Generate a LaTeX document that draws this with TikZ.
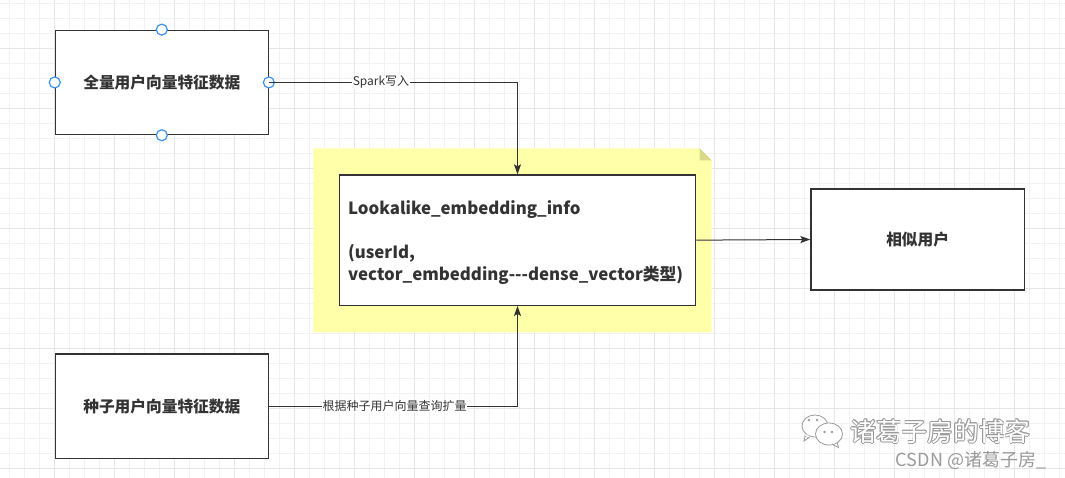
\documentclass[tikz,border=0pt]{standalone}
\usepackage{fontspec}
\newfontfamily\cjk{Noto Sans CJK SC}
\usetikzlibrary{arrows.meta}
\definecolor{ink}{HTML}{333333}
\definecolor{gridminor}{HTML}{F2F2F2}
\definecolor{gridmajor}{HTML}{E6E6E6}
\definecolor{notefill}{HTML}{FFFFAA}
\definecolor{notefold}{HTML}{D9D98C}
\definecolor{handle}{HTML}{3C91F0}
\definecolor{wmgray}{HTML}{9A9A9A}
\tikzset{
  gminor/.style={draw=gridminor,line width=1pt},
  gmajor/.style={draw=gridmajor,line width=1pt},
  box/.style={draw=ink,line width=1.3pt,fill=white,inner sep=0pt,text=ink,
    font=\cjk\bfseries\fontsize{15.7}{19}\selectfont},
  conn/.style={draw=ink,line width=1pt,-{Stealth[length=10pt,width=7pt,inset=2pt]}},
  elabel/.style={fill=white,inner sep=0.5pt,text=ink,font=\cjk\fontsize{12}{14}\selectfont},
  hdl/.style={circle,draw=handle,fill=white,line width=1.2pt,minimum size=11pt,inner sep=0pt},
}
\begin{document}
\begin{tikzpicture}[x=1pt,y=-1pt]
\useasboundingbox (0,0) rectangle (1065,478);
\fill[white] (0,0) rectangle (1065,478);
% grid
\foreach \x in {9,24,...,1060} \draw[gminor] (\x,0) -- (\x,478);
\foreach \y in {3.3,18.3,...,478} \draw[gminor] (0,\y) -- (1065,\y);
\foreach \x in {54,114,...,1060} \draw[gmajor] (\x,0) -- (\x,478);
\foreach \y in {48.3,108.3,...,478} \draw[gmajor] (0,\y) -- (1065,\y);
% note background
\fill[notefill] (313.3,148.3) -- (699.7,148.3) -- (711.7,160.3) -- (711.7,332.3) -- (313.3,332.3) -- cycle;
\fill[notefold] (699.7,148.3) -- (699.7,160.3) -- (711.7,160.3) -- cycle;
% boxes
\node[box,minimum width=212.8pt,minimum height=104.3pt] (all) at (161.8,82.45) {全量用户向量特征数据};
\node[box,minimum width=212.8pt,minimum height=104.3pt] (seed) at (161.8,406.25) {种子用户向量特征数据};
\node[box,minimum width=356.4pt,minimum height=130.3pt] (info) at (517.5,240.15) {};
\node[anchor=west,inner sep=0pt,text=ink,align=left,
  font=\cjk\bfseries\fontsize{16.8}{21.7}\selectfont] (infotext) at (348,242.5)
  {Lookalike\_embedding\_info\\\strut\\(userId,\\vector\_embedding-{}-{}-dense\_vector类型)};
\node[box,minimum width=213.3pt,minimum height=101pt] (sim) at (917.65,239.5) {相似用户};
% handles
\node[hdl] (h1) at (all.north) {};
\node[hdl] (h2) at (all.south) {};
\node[hdl] (h3) at (all.west) {};
\node[hdl] (h4) at (all.east) {};
% connectors
\coordinate (c1) at (517.5,82.45);
\coordinate (c2) at (517.5,406.25);
\draw[conn] (all.east) -- (c1) -- (info.north);
\draw[conn] (seed.east) -- (c2) -- (info.south);
\draw[conn] (info.east) -- (sim.west);
\node[elabel] (l1) at (381,82.45) {Spark写入};
\node[elabel] (l2) at (394.6,406.25) {根据种子用户向量查询扩量};
% watermark icon
\begin{scope}[draw=wmgray,line width=0.8pt,fill=white]
\filldraw (805,436) -- (804,441) -- (809,437.5) -- cycle;
\filldraw (815,426) ellipse[x radius=13pt,y radius=11pt];
\fill (805.5,436.5) -- (809,437.2) -- (808,434) -- cycle;
\fill[wmgray] (809,420) circle[radius=1.4pt] (817,420) circle[radius=1.4pt];
\filldraw (837,442) -- (838.5,447.5) -- (832.5,444.5) -- cycle;
\filldraw (829,434) ellipse[x radius=13.5pt,y radius=11pt];
\fill (836.5,442.5) -- (833,444) -- (832,442) -- cycle;
\fill[wmgray] (824.5,432) circle[radius=1.4pt] (832,432) circle[radius=1.4pt];
\end{scope}
% watermark text
\foreach \dx/\dy in {0.7/0,-0.7/0,0/0.7,0/-0.7,0.5/0.5,-0.5/0.5,0.5/-0.5,-0.5/-0.5}
  \node[text=wmgray,inner sep=0pt,font=\cjk\fontsize{25.7}{28}\selectfont] at (940.5+\dx,431.5+\dy) {诸葛子房的博客};
\node[text=white,inner sep=0pt,font=\cjk\fontsize{25.7}{28}\selectfont] (wm1) at (940.5,431.5) {诸葛子房的博客};
\node[text=wmgray,inner sep=0pt,font=\cjk\fontsize{18}{20}\selectfont] (wm2) at (971,460) {CSDN @诸葛子房\_};
\end{tikzpicture}
\end{document}
